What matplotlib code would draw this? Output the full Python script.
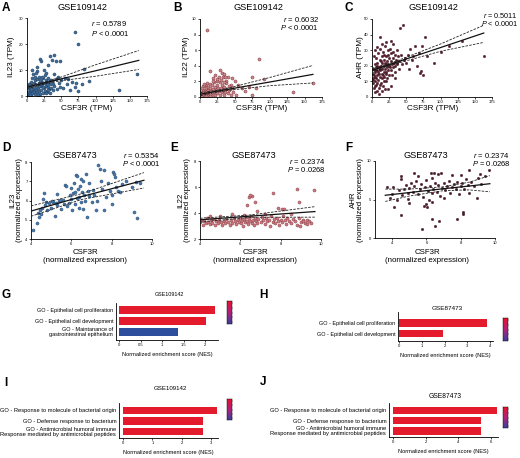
import numpy as np
import matplotlib
matplotlib.use("Agg")
import matplotlib.pyplot as plt
from matplotlib.colors import LinearSegmentedColormap

plt.rcParams['font.family'] = ['Liberation Sans', 'DejaVu Sans']
plt.rcParams['mathtext.fontset'] = 'custom'
plt.rcParams['mathtext.rm'] = 'Liberation Sans'
plt.rcParams['mathtext.it'] = 'Liberation Sans:italic'

W, H = 520, 458

# ---------------- data ----------------
# A: IL23 vs CSF3R (TPM), GSE109142
a_pts = [(70, 24.5), (74, 20), (83, 10.2), (160, 8.4), (134, 2.5), (90, 5.6), (34, 15.2), (39, 15.7),
         (43, 13.5), (48, 13.3), (19, 14.2), (21, 13.4), (36, 14), (30, 12), (25, 10), (8, 10), (15, 9.5),
         (28, 9), (40, 8.5), (45, 7.5), (55, 7), (60, 6.5), (65, 5.5), (70, 3.5), (75, 2), (80, 4.5),
         (62, 2.5), (52, 3), (58, 4.5), (72, 5), (50, 6), (35, 6), (38, 4.5),
         (1, 0.5), (2, 1.5), (3, 0.8), (4, 2.5), (5, 1.2), (5, 3.5), (6, 0.4), (7, 2), (8, 4), (8, 1),
         (9, 2.8), (10, 5), (10, 1.5), (11, 3.2), (12, 0.8), (12, 6), (13, 2.2), (14, 4.2), (15, 1.5),
         (15, 6.5), (16, 3), (17, 5), (18, 2), (18, 7.5), (19, 0.9), (20, 3.8), (20, 5.8), (21, 2.5),
         (22, 4.5), (23, 1.3), (24, 6.8), (25, 3), (25, 5), (26, 2), (27, 4), (28, 6), (29, 1.6), (30, 3.5),
         (30, 5.5), (31, 7), (32, 2.6), (33, 4.6), (34, 1.2), (35, 3.2), (36, 5.8), (38, 2.2), (40, 4),
         (42, 6.5), (44, 2.8), (46, 5), (48, 3.6), (3, 4.5), (6, 5.5), (4, 0.2), (2, 3), (7, 6.8), (9, 8.5),
         (11, 7.5), (13, 8.8), (16, 0.3), (22, 7.2), (26, 8.2), (14, 11), (6, 2.8), (17, 3.8), (19, 6.2),
         (23, 3.6), (27, 1), (29, 4.8), (31, 2.2)]
a_fit_x = [0, 25, 50, 100, 163]
a_fit = [3.4, 5.0, 6.6, 9.7, 13.7]
a_hi = [4.0, 5.4, 7.3, 12.0, 17.5]
a_lo = [2.8, 4.6, 5.9, 7.6, 10.2]

# B: IL22 vs CSF3R (TPM), GSE109142
b_pts = [(10, 8.6), (85, 4.9), (162, 1.8), (134, 0.6), (75, 2.6), (92, 2.3), (15, 3.3), (28, 3.5),
         (31, 3.1), (35, 2.9), (33, 2.5), (22, 2.8), (40, 2.6), (46, 2.4), (50, 2.0), (38, 2.1), (60, 1.2),
         (70, 1.3), (75, 0.3), (65, 0.8), (52, 0.3), (80, 1.1), (45, 1.6), (55, 1.5), (25, 2.1), (18, 2.4),
         (1, 0.2), (2, 0.6), (3, 0.1), (4, 0.9), (5, 0.4), (5, 1.4), (6, 0.2), (7, 0.8), (8, 1.6), (8, 0.3),
         (9, 1.1), (10, 0.5), (10, 1.8), (11, 0.9), (12, 0.2), (12, 1.3), (13, 0.7), (14, 1.7), (15, 0.4),
         (15, 1.1), (16, 0.8), (17, 1.5), (18, 0.3), (19, 1.0), (20, 0.6), (20, 1.9), (21, 1.3), (22, 0.2),
         (23, 0.9), (24, 1.6), (25, 0.5), (26, 1.2), (27, 0.8), (28, 1.9), (29, 0.3), (30, 1.1), (31, 0.6),
         (32, 1.5), (33, 0.9), (34, 0.2), (35, 1.3), (36, 0.7), (37, 1.8), (38, 1.0), (40, 0.5), (41, 1.4),
         (42, 0.9), (44, 0.3), (46, 1.1), (48, 0.7), (3, 1.2), (6, 1.7), (9, 0.1), (14, 0.1), (18, 2.0),
         (24, 2.3), (27, 2.6), (30, 2.2), (34, 1.9), (36, 2.5)]
b_fit_x = [0, 25, 50, 100, 162]
b_fit = [0.35, 0.75, 1.14, 1.92, 2.9]
b_hi = [0.55, 0.85, 1.35, 2.5, 4.05]
b_lo = [0.15, 0.65, 0.95, 1.45, 1.8]

# C: AHR vs CSF3R (TPM), GSE109142
c_pts = [(1, 12), (2, 15), (2, 9), (3, 18), (3, 6), (4, 13), (4, 21), (5, 10), (5, 16), (6, 8), (6, 19),
         (6, 25), (7, 14), (7, 4), (8, 17), (8, 22), (9, 11), (9, 28), (10, 15), (10, 19), (10, 6), (11, 13),
         (11, 24), (12, 17), (12, 31), (13, 9), (13, 20), (14, 15), (14, 26), (15, 18), (15, 12), (15, 22),
         (16, 7), (16, 29), (17, 16), (17, 20), (18, 24), (18, 13), (19, 18), (19, 33), (20, 21), (20, 10),
         (21, 15), (21, 26), (22, 19), (22, 23), (23, 17), (23, 30), (24, 21), (24, 5), (25, 14), (25, 25),
         (26, 19), (27, 23), (27, 36), (28, 17), (28, 28), (29, 21), (30, 25), (30, 34), (31, 19), (32, 22),
         (33, 27), (33, 12), (34, 20), (35, 24), (36, 30), (37, 22), (38, 26), (39, 18), (40, 23), (41, 44),
         (42, 27), (44, 21), (45, 46), (46, 24), (48, 25), (50, 22), (52, 27), (54, 18), (56, 31), (58, 24),
         (60, 26), (62, 33), (66, 20), (68, 28), (70, 15.5), (72, 16.5), (74, 14), (73, 33), (77, 38.5),
         (80, 26), (91, 22), (100, 29), (112, 33), (131, 36), (163, 26),
         (2, 11), (3, 14), (4, 17), (5, 7), (6, 12), (7, 20), (8, 9), (9, 16), (11, 18), (12, 8), (13, 23),
         (14, 4), (16, 14), (17, 27), (18, 10), (19, 22), (20, 16), (21, 35), (22, 12), (23, 27), (25, 20),
         (26, 31), (29, 14), (31, 29), (34, 16), (36, 21), (12, 38.5), (1, 18), (3, 26), (5, 30), (8, 32),
         (14, 34), (4, 3), (10, 2), (19, 5), (28, 7)]
c_fit_x = [0, 25, 50, 100, 163]
c_fit = [17.0, 20.7, 24.4, 31.7, 41.0]
c_hi = [18.5, 21.3, 25.5, 34.0, 46.0]
c_lo = [15.5, 20.1, 23.2, 29.3, 35.0]

# D: IL23 vs CSF3R (normalized), GSE87473
d_pts = [(4.12, 4.45), (4.28, 4.82), (4.41, 5.12), (4.5, 5.3), (4.55, 5.6), (4.6, 6.1), (4.65, 6.37),
         (4.7, 5.75), (4.8, 5.5), (4.9, 5.85), (5.0, 5.6), (5.1, 5.9), (5.2, 5.2), (5.3, 5.75), (5.4, 5.95),
         (5.5, 5.55), (5.6, 6.05), (5.7, 6.8), (5.75, 6.75), (5.8, 5.7), (5.9, 5.85), (6.0, 6.1), (6.05, 5.5),
         (6.1, 6.4), (6.15, 6.9), (6.2, 5.8), (6.25, 7.3), (6.3, 7.25), (6.35, 6.6), (6.4, 6.2), (6.45, 6.75),
         (6.5, 7.1), (6.5, 5.9), (6.55, 6.45), (6.6, 7.0), (6.65, 6.3), (6.7, 6.0), (6.75, 7.4), (6.8, 5.15),
         (6.85, 6.5), (6.9, 6.9), (7.0, 5.9), (7.1, 6.3), (7.2, 5.5), (7.3, 7.85), (7.4, 7.65), (7.45, 7.0),
         (7.5, 6.6), (7.6, 5.5), (7.7, 6.2), (7.8, 6.9), (7.9, 6.5), (8.0, 5.8), (8.05, 7.5), (8.1, 7.4),
         (8.15, 7.2), (8.2, 6.7), (8.3, 6.5), (8.4, 6.45), (9.1, 5.4), (9.25, 5.1), (9.4, 6.9), (9.2, 6.95),
         (4.45, 5.5), (4.75, 5.9), (5.05, 6.0), (5.25, 5.85), (5.45, 6.05), (5.65, 5.8), (6.0, 6.65),
         (6.2, 6.45), (6.4, 5.6), (6.6, 5.55), (6.9, 6.25), (7.05, 6.55), (7.6, 7.6), (8.0, 6.3), (8.5, 6.85),
         (8.7, 7.0), (9.0, 6.7), (5.3, 6.35), (4.35, 5.35), (5.95, 6.3), (6.3, 6.15), (7.25, 6.0)]
d_fit_x = [4.0, 6.5, 9.6]
d_fit = [5.45, 6.2, 7.05]
d_hi = [5.72, 6.35, 7.45]
d_lo = [5.18, 6.05, 6.65]

# E: IL22 vs CSF3R (normalized), GSE87473
e_pts = [(4.0, 3.3), (4.1, 3.5), (4.15, 3.1), (4.2, 3.4), (4.3, 3.2), (4.35, 3.6), (4.4, 3.3), (4.5, 3.15),
         (4.55, 3.45), (4.6, 3.25), (4.7, 3.55), (4.75, 3.1), (4.8, 3.35), (4.9, 3.2), (4.95, 3.5), (5.0, 3.75),
         (5.05, 3.3), (5.1, 3.05), (5.2, 3.4), (5.25, 3.2), (5.3, 3.55), (5.4, 3.3), (5.5, 3.1), (5.55, 3.45),
         (5.6, 3.25), (5.7, 3.6), (5.75, 3.35), (5.8, 3.15), (5.9, 3.5), (5.95, 3.3), (6.0, 3.65), (6.05, 3.2),
         (6.1, 3.45), (6.15, 3.0), (6.2, 3.55), (6.25, 3.3), (6.3, 3.7), (6.35, 3.4), (6.4, 3.15), (6.45, 3.6),
         (6.5, 3.35), (6.55, 3.8), (6.6, 3.25), (6.65, 3.5), (6.7, 3.05), (6.75, 3.65), (6.8, 3.4), (6.85, 3.2),
         (6.9, 3.55), (7.0, 3.3), (7.05, 3.7), (7.1, 3.45), (7.2, 3.15), (7.25, 3.6), (7.3, 3.35), (7.4, 3.5),
         (7.45, 3.0), (7.5, 3.75), (7.6, 3.3), (7.65, 3.55), (7.7, 3.2), (7.8, 3.65), (7.85, 3.4), (7.9, 3.1),
         (8.0, 3.5), (8.05, 3.3), (8.1, 3.8), (8.2, 3.45), (8.25, 3.15), (8.3, 3.6), (8.4, 3.35), (8.5, 3.25),
         (8.6, 3.55), (8.7, 3.4), (8.8, 3.1), (8.9, 3.6), (9.0, 3.3), (9.1, 3.45), (9.2, 3.25), (9.3, 3.5),
         (9.4, 3.35), (9.5, 3.2),
         (6.57, 5.31), (6.45, 5.2), (6.5, 5.35), (6.74, 4.88), (6.35, 4.62), (6.85, 4.19), (7.62, 5.51),
         (8.81, 5.82), (8.89, 4.88), (9.67, 5.77), (7.85, 4.37), (8.06, 4.29), (8.15, 4.32), (8.98, 3.02),
         (9.3, 3.15), (9.1, 3.4), (5.6, 3.9), (7.2, 3.9), (6.2, 3.85), (8.5, 3.9), (4.5, 3.75)]
e_fit_x = [4.0, 6.5, 9.7]
e_fit = [3.48, 3.76, 4.11]
e_hi = [3.6, 3.85, 4.49]
e_lo = [3.3, 3.67, 3.68]

# F: AHR vs CSF3R (normalized), GSE87473
f_pts = [(5.77, 1.21), (6.49, 1.56), (6.3, 2.42), (6.74, 2.2), (4.5, 2.94), (7.78, 2.5), (8.11, 3.38),
         (8.15, 3.16), (8.95, 5.24), (4.1, 4.03), (5.86, 4.11), (5.96, 4.46), (6.05, 4.0), (6.15, 4.89),
         (6.35, 4.7), (4.5, 8.1), (5.28, 8.4), (6.25, 8.5), (6.44, 8.4), (6.83, 8.5), (7.51, 8.2), (8.0, 8.2),
         (8.49, 8.86), (9.1, 8.3), (9.66, 8.86), (4.06, 6.6), (3.7, 6.6), (3.9, 5.2), (4.0, 5.7), (4.3, 5.0),
         (4.4, 6.2), (4.5, 7.7), (4.6, 5.6), (4.7, 6.4), (4.8, 6.9), (4.9, 5.9), (5.0, 6.5), (5.1, 7.2),
         (5.2, 6.0), (5.3, 6.7), (5.4, 7.4), (5.5, 5.7), (5.6, 6.3), (5.7, 7.0), (5.8, 5.3), (5.9, 6.6),
         (6.0, 7.5), (6.1, 6.1), (6.2, 6.8), (6.3, 7.8), (6.35, 5.8), (6.4, 6.4), (6.5, 7.2), (6.6, 6.0),
         (6.7, 6.9), (6.8, 5.4), (6.9, 6.5), (7.0, 7.1), (7.1, 6.2), (7.2, 6.7), (7.3, 7.4), (7.4, 5.9),
         (7.5, 6.6), (7.6, 7.0), (7.7, 6.3), (7.8, 7.3), (7.9, 5.7), (8.0, 6.8), (8.1, 7.2), (8.2, 6.4),
         (8.3, 7.6), (8.4, 6.9), (8.6, 7.3), (8.8, 6.7), (9.0, 7.8), (9.2, 7.0), (9.4, 8.0), (5.0, 4.6),
         (4.9, 5.1), (5.5, 8.0), (6.7, 8.3), (7.0, 5.2), (8.5, 5.9)]
f_fit_x = [3.6, 5.0, 7.0, 8.5, 9.7]
f_fit = [5.55, 5.9, 6.4, 6.75, 7.05]
f_hi = [6.35, 6.35, 6.65, 7.25, 8.1]
f_lo = [4.75, 5.45, 6.15, 6.25, 6.0]

# GSEA bars
g_terms = ["GO - Epithelial cell proliferation", "GO - Epithelial cell development",
           "GO - Maintanance of\ngastrointestinal epithelium"]
g_nes = [2.24, 2.02, 1.37]
h_terms = ["GO - Epithelial cell proliferation", "GO - Epithelial cell development"]
h_nes = [3.85, 1.95]
i_terms = ["GO - Response to molecule of bacterial origin", "GO - Defense response to bacterium",
           "GO - Antimicrobial humoral immune\nResponse mediated by antimicrobial peptides"]
i_nes = [3.2, 2.75, 2.75]
j_terms = i_terms
j_nes = [6.35, 5.4, 5.4]

RED = '#e31b2c'
BLUE = '#2c4e9d'
cmap = LinearSegmentedColormap.from_list('nes', ['#3a3f9a', '#b3207e', '#e8112d'])

fig = plt.figure(figsize=(W / 100, H / 100), dpi=100)


def box(x0, y0, x1, y1):
    return [x0 / W, 1 - y1 / H, (x1 - x0) / W, (y1 - y0) / H]


def ftext(x, y, s, **kw):
    kw.setdefault('ha', 'center')
    kw.setdefault('va', 'center')
    fig.text(x / W, 1 - y / H, s, **kw)


def style(ax):
    for s in ['top', 'right']:
        ax.spines[s].set_visible(False)
    for s in ['left', 'bottom']:
        ax.spines[s].set_linewidth(0.6)
    ax.tick_params(length=1.5, width=0.5, labelsize=3, pad=1)


def scatter_panel(pos, pts, color, edge, size, xlim, xticks, ylim, yticks, fx, fm, fh, fl):
    ax = fig.add_axes(box(*pos))
    x = [p[0] for p in pts]
    y = [p[1] for p in pts]
    ax.scatter(x, y, s=size, c=color, edgecolors=edge, linewidths=0.3, zorder=2)
    ax.plot(fx, fm, color='#111111', lw=0.9, zorder=3)
    ax.plot(fx, fh, color='#222222', lw=0.6, ls=(0, (3, 1.5)), zorder=3)
    ax.plot(fx, fl, color='#222222', lw=0.6, ls=(0, (3, 1.5)), zorder=3)
    ax.set_xlim(*xlim)
    ax.set_ylim(*ylim)
    ax.set_xticks(xticks)
    ax.set_yticks(yticks)
    style(ax)
    return ax


tpm_ticks = [0, 25, 50, 75, 100, 125, 150, 175]
scatter_panel((27, 18, 147, 96), a_pts, '#3f6e9c', '#1c3654', 5, (0, 175), tpm_ticks, (0, 30), [0, 10, 20, 30],
              a_fit_x, a_fit, a_hi, a_lo)
scatter_panel((200, 19, 322, 97), b_pts, '#c9868b', '#7a2a33', 5, (0, 175), tpm_ticks, (0, 10),
              [0, 2, 4, 6, 8, 10], b_fit_x, b_fit, b_hi, b_lo)
scatter_panel((372, 19, 492, 97), c_pts, '#5b1b2e', '#3a0f1c', 3, (0, 175), tpm_ticks, (0, 50),
              [0, 10, 20, 30, 40, 50], c_fit_x, c_fit, c_hi, c_lo)
scatter_panel((31, 162, 152, 239), d_pts, '#4a7aab', '#23456b', 5, (4, 10), [4, 6, 8, 10], (4, 8),
              [4, 5, 6, 7, 8], d_fit_x, d_fit, d_hi, d_lo)
scatter_panel((200, 161, 321, 239), e_pts, '#c97c82', '#86363e', 5, (4, 10), [4, 6, 8, 10], (2, 8),
              [2, 4, 6, 8], e_fit_x, e_fit, e_hi, e_lo)
scatter_panel((375, 161, 495, 238), f_pts, '#4e1828', '#2e0c17', 3, (3, 10), [4, 6, 8, 10], (0, 10),
              [0, 5, 10], f_fit_x, f_fit, f_hi, f_lo)

# scatter texts
TT = 6.6
ftext(82, 8, 'GSE109142', fontsize=TT)
ftext(258, 8, 'GSE109142', fontsize=TT)
ftext(433, 8, 'GSE109142', fontsize=TT)
ftext(75, 155, 'GSE87473', fontsize=TT)
ftext(254, 155, 'GSE87473', fontsize=TT)
ftext(426, 155, 'GSE87473', fontsize=TT)

RP = 5.5
ftext(91, 24, r'$\it{r}$ = 0.5789', fontsize=RP, ha='left')
ftext(91, 33, r'$\it{P}$ < 0.0001', fontsize=RP, ha='left')
ftext(319, 19, r'$\it{r}$ = 0.6032', fontsize=RP, ha='right')
ftext(319, 27, r'$\it{P}$ < 0.0001', fontsize=RP, ha='right')
ftext(518, 15, r'$\it{r}$ = 0.5011', fontsize=5.2, ha='right')
ftext(518, 24, r'$\it{P}$ < 0.0001', fontsize=5.2, ha='right')
ftext(123, 155, r'$\it{r}$ = 0.5354', fontsize=RP, ha='left')
ftext(122, 164, r'$\it{P}$ < 0.0001', fontsize=RP, ha='left')
ftext(289, 161, r'$\it{r}$ = 0.2374', fontsize=RP, ha='left')
ftext(287, 169, r'$\it{P}$ = 0.0268', fontsize=RP, ha='left')
ftext(473, 155, r'$\it{r}$ = 0.2374', fontsize=RP, ha='left')
ftext(472, 163, r'$\it{P}$ = 0.0268', fontsize=RP, ha='left')

AL = 5.9
ftext(12, 57, 'IL23 (TPM)', fontsize=AL, rotation=90)
ftext(187, 57, 'IL22 (TPM)', fontsize=AL, rotation=90)
ftext(360, 57, 'AHR (TPM)', fontsize=AL, rotation=90)
ftext(87, 108, 'CSF3R (TPM)', fontsize=AL)
ftext(262, 108, 'CSF3R (TPM)', fontsize=AL)
ftext(433, 108, 'CSF3R (TPM)', fontsize=AL)

NL = 5.7
ftext(16, 200, 'IL23\n(normalized expression)', fontsize=NL, rotation=90, linespacing=1.05)
ftext(184, 200, 'IL22\n(normalized expression)', fontsize=NL, rotation=90, linespacing=1.05)
ftext(357, 200, 'AHR\n(normalized expression)', fontsize=NL, rotation=90, linespacing=1.05)
ftext(85, 256, 'CSF3R\n(normalized expression)', fontsize=NL, linespacing=1.2)
ftext(255, 256, 'CSF3R\n(normalized expression)', fontsize=NL, linespacing=1.2)
ftext(427, 256, 'CSF3R\n(normalized expression)', fontsize=NL, linespacing=1.2)

for lab, x, y in [('A', 6, 8), ('B', 177, 8), ('C', 349, 8), ('D', 6, 148), ('E', 174, 148), ('F', 349, 148),
                  ('G', 6, 295), ('H', 263, 295), ('I', 6, 383), ('J', 263, 382)]:
    ftext(x, y, lab, fontsize=8.5, fontweight='bold')


def bar_panel(pos, terms, nes, colors, xlim, xticks, ylim, title, ty, tsize, lsize, cbar_pos):
    ax = fig.add_axes(box(*pos))
    ypos = np.arange(len(terms))
    ax.barh(ypos, nes, height=0.72, color=colors, zorder=2)
    ax.set_xlim(*xlim)
    ax.set_ylim(*ylim)
    style(ax)
    ax.set_xticks(xticks)
    ax.set_xticklabels([f'{t:g}' for t in xticks])
    ax.set_yticks(ypos)
    ax.set_yticklabels(terms, fontsize=lsize, linespacing=1.0)
    ax.tick_params(axis='y', length=0, pad=2, labelsize=lsize)
    ax.set_xlabel('Normalized enrichment score (NES)', fontsize=4.1, labelpad=3)
    ftext((pos[0] + pos[2]) / 2 + 2, ty, title, fontsize=tsize)
    cax = fig.add_axes(box(*cbar_pos))
    grad = np.linspace(0, 1, 64)[:, None]
    cax.imshow(grad, cmap=cmap, aspect='auto', origin='lower', extent=(0, 1, 0, 1))
    cax.set_xticks([])
    cax.set_yticks(np.linspace(0.08, 0.92, 5))
    cax.yaxis.tick_right()
    cax.tick_params(axis='y', length=1, width=0.3, labelsize=1.5, pad=0.5)
    cax.set_yticklabels([])
    for s in cax.spines.values():
        s.set_linewidth(0.3)
    return ax


bar_panel((116, 303, 218, 340), g_terms, g_nes, [RED, RED, BLUE], (-0.07, 2.3), [0, 0.5, 1, 1.5, 2],
          (2.73, -0.64), 'GSE109142', 295, 3.9, 4.0, (227, 301, 232, 324))
bar_panel((398, 312, 493, 341), h_terms, h_nes, [RED, RED], (-0.05, 4.13), [0, 1, 2, 3, 4],
          (1.71, -1.05), 'GSE87473', 309, 4.6, 4.0, (503, 318, 508, 341))
bar_panel((119, 403, 218, 438), i_terms, i_nes, [RED, RED, RED], (-0.15, 3.25), [0, 1, 2, 3],
          (2.62, -0.71), 'GSE109142', 388, 4.4, 4.15, (227, 399, 232, 420))
bar_panel((389, 403, 498, 437), j_terms, j_nes, [RED, RED, RED], (-0.25, 6.43), [0, 2, 4, 6],
          (2.6, -0.7), 'GSE87473', 397, 4.9, 4.15, (503, 407, 508, 428))

fig.savefig('out.png', dpi=100)
